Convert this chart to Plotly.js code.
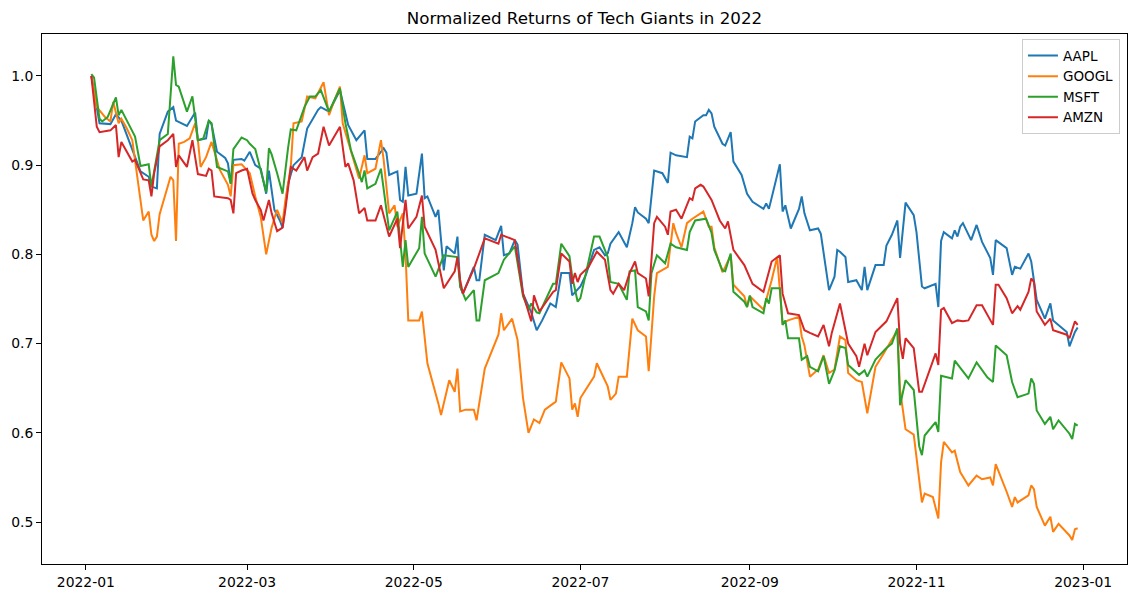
<!DOCTYPE html>
<html>
<head>
<meta charset="utf-8">
<script src="https://cdn.plot.ly/plotly-3.0.1.min.js"></script>
<style>html,body{margin:0;padding:0;background:#fff;}#chart{width:1136px;height:605px;}</style>
</head>
<body>
<div id="chart"></div>
<script>
// Day-of-year offsets (0 = 2022-01-01) of the plotted trading days, and normalized prices
const aaplDay = [2,5,9,11,13,20,23,24,26,27,30,32,33,37,40,41,44,45,46,48,51,52,53,54,57,58,60,62,64,66,67,69,71,72,74,76,79,81,85,86,89,93,96,99,102,103,106,109,110,111,114,115,116,117,118,121,123,124,125,128,129,131,132,135,136,137,138,142,143,144,146,150,152,153,155,157,158,160,161,163,165,167,170,172,174,177,178,181,183,186,188,190,191,192,195,198,200,201,202,205,206,207,208,211,213,214,216,220,221,222,223,226,227,228,229,230,233,234,236,237,240,242,244,248,249,250,254,255,256,258,261,262,263,265,268,269,272,274,275,276,278,279,282,284,285,286,289,292,293,295,297,298,300,303,304,306,307,311,312,313,314,317,318,319,320,321,324,326,328,331,332,333,337,339,340,342,345,346,348,351,353,354,359,360,362,363];
const aaplVal = [1.000,0.947,0.946,0.957,0.950,0.893,0.887,0.876,0.874,0.935,0.960,0.965,0.950,0.944,0.959,0.928,0.930,0.950,0.946,0.915,0.908,0.902,0.880,0.906,0.907,0.905,0.915,0.900,0.896,0.868,0.894,0.850,0.838,0.830,0.879,0.900,0.909,0.941,0.962,0.965,0.960,0.984,0.945,0.928,0.939,0.907,0.907,0.919,0.914,0.889,0.893,0.861,0.859,0.898,0.866,0.868,0.913,0.863,0.865,0.842,0.850,0.782,0.809,0.801,0.820,0.764,0.756,0.786,0.771,0.771,0.822,0.816,0.832,0.799,0.801,0.816,0.811,0.756,0.749,0.735,0.715,0.726,0.745,0.741,0.779,0.779,0.754,0.764,0.777,0.805,0.808,0.799,0.801,0.812,0.825,0.808,0.835,0.853,0.847,0.840,0.835,0.865,0.894,0.891,0.880,0.914,0.911,0.909,0.932,0.930,0.949,0.956,0.956,0.962,0.958,0.943,0.924,0.922,0.937,0.904,0.889,0.868,0.859,0.851,0.857,0.851,0.901,0.848,0.855,0.829,0.851,0.865,0.846,0.827,0.829,0.823,0.760,0.775,0.805,0.803,0.797,0.769,0.771,0.760,0.786,0.760,0.788,0.788,0.810,0.822,0.838,0.796,0.858,0.844,0.825,0.764,0.762,0.767,0.741,0.815,0.825,0.818,0.827,0.820,0.831,0.835,0.816,0.833,0.814,0.796,0.777,0.816,0.807,0.777,0.786,0.784,0.801,0.792,0.749,0.728,0.745,0.726,0.713,0.697,0.713,0.718];

const googlDay = [2,4,7,9,10,12,13,15,17,20,21,23,24,25,26,27,29,31,32,33,34,36,38,40,41,42,44,46,49,52,53,54,57,58,60,62,64,66,68,70,72,73,75,76,79,81,84,87,89,91,93,94,97,100,102,103,106,108,109,111,113,114,116,117,118,122,123,125,129,130,133,135,136,137,139,142,143,146,151,152,153,156,158,160,162,164,166,168,172,174,177,178,179,180,181,186,187,191,192,194,195,198,200,202,205,206,207,208,209,212,213,215,216,218,220,222,226,228,229,230,233,234,236,237,241,242,243,248,250,251,253,254,255,257,261,262,263,265,268,270,272,274,276,278,279,282,284,286,289,292,297,298,300,303,305,306,307,310,312,313,314,317,318,320,323,326,328,331,332,333,337,339,340,341,345,346,347,348,351,353,354,356,360,361,362,363];
const googlVal = [1.000,0.965,0.954,0.949,0.971,0.947,0.952,0.941,0.928,0.861,0.838,0.848,0.822,0.815,0.820,0.845,0.866,0.887,0.883,0.815,0.924,0.926,0.930,0.947,0.928,0.898,0.909,0.926,0.895,0.878,0.865,0.900,0.901,0.898,0.891,0.865,0.842,0.800,0.830,0.850,0.835,0.860,0.898,0.947,0.949,0.977,0.975,0.993,0.956,0.973,0.988,0.947,0.917,0.885,0.911,0.891,0.896,0.928,0.906,0.846,0.855,0.831,0.846,0.800,0.726,0.726,0.736,0.678,0.633,0.620,0.659,0.646,0.672,0.624,0.626,0.626,0.614,0.672,0.710,0.734,0.715,0.728,0.704,0.639,0.600,0.615,0.611,0.626,0.635,0.679,0.661,0.626,0.633,0.618,0.639,0.663,0.678,0.652,0.637,0.644,0.663,0.663,0.728,0.715,0.708,0.669,0.710,0.753,0.779,0.784,0.786,0.835,0.824,0.808,0.835,0.840,0.848,0.831,0.831,0.808,0.780,0.786,0.799,0.766,0.753,0.741,0.753,0.738,0.760,0.771,0.797,0.762,0.723,0.726,0.730,0.708,0.698,0.663,0.671,0.687,0.667,0.671,0.708,0.704,0.667,0.659,0.657,0.622,0.674,0.689,0.715,0.648,0.604,0.598,0.545,0.522,0.532,0.528,0.504,0.567,0.590,0.578,0.580,0.556,0.541,0.552,0.548,0.550,0.541,0.565,0.534,0.517,0.528,0.522,0.530,0.541,0.537,0.517,0.496,0.506,0.489,0.498,0.485,0.480,0.492,0.493];

const msftDay = [2,3,5,6,8,11,12,13,18,20,23,24,27,30,32,33,34,37,39,41,43,45,46,48,52,53,54,57,59,60,62,64,66,67,68,70,72,74,75,77,80,82,84,86,89,91,93,95,97,100,101,102,103,106,108,111,114,116,117,118,122,123,124,128,131,136,137,139,142,143,144,146,151,153,157,160,162,163,165,166,171,172,174,177,178,180,181,186,188,191,192,195,198,199,201,202,205,206,207,209,212,214,216,220,221,223,227,229,230,233,234,236,237,241,242,243,244,248,249,250,251,254,255,256,257,261,262,264,265,268,270,272,274,276,278,279,283,285,286,289,293,295,297,298,300,303,305,306,307,311,312,313,317,318,323,326,330,332,333,337,339,341,345,346,347,348,351,353,354,356,360,361,362,363];
const msftVal = [1.002,0.998,0.952,0.949,0.954,0.976,0.956,0.962,0.932,0.899,0.901,0.876,0.928,0.935,1.022,0.990,0.988,0.960,0.977,0.928,0.930,0.950,0.947,0.898,0.893,0.879,0.918,0.931,0.928,0.924,0.918,0.894,0.870,0.919,0.912,0.891,0.868,0.919,0.940,0.939,0.965,0.977,0.977,0.984,0.960,0.973,0.986,0.947,0.917,0.891,0.881,0.894,0.874,0.879,0.896,0.827,0.848,0.786,0.816,0.786,0.807,0.842,0.801,0.775,0.799,0.797,0.764,0.749,0.760,0.726,0.726,0.771,0.779,0.794,0.809,0.753,0.738,0.745,0.735,0.734,0.767,0.767,0.812,0.798,0.775,0.747,0.751,0.820,0.820,0.797,0.769,0.767,0.749,0.781,0.782,0.741,0.736,0.726,0.779,0.799,0.790,0.812,0.808,0.805,0.825,0.838,0.840,0.824,0.805,0.782,0.781,0.801,0.758,0.747,0.741,0.754,0.741,0.734,0.751,0.745,0.762,0.762,0.721,0.726,0.706,0.706,0.682,0.686,0.674,0.669,0.686,0.655,0.670,0.697,0.695,0.676,0.665,0.670,0.663,0.682,0.695,0.700,0.717,0.631,0.659,0.648,0.585,0.575,0.597,0.612,0.601,0.664,0.661,0.681,0.661,0.679,0.662,0.657,0.698,0.687,0.657,0.640,0.644,0.661,0.655,0.625,0.610,0.618,0.604,0.614,0.599,0.593,0.610,0.608];

const amznDay = [2,4,5,9,11,12,13,15,17,18,20,21,23,24,25,27,30,32,33,34,37,39,41,44,45,46,47,52,53,54,55,57,59,60,61,62,64,65,67,68,70,72,73,75,77,80,81,83,85,87,89,93,95,96,98,100,102,103,106,108,111,114,115,117,118,121,123,124,128,131,135,136,137,138,142,146,151,152,157,160,163,164,166,171,172,174,177,178,179,180,181,184,187,190,192,193,195,197,199,201,202,205,206,208,209,212,213,214,216,218,221,222,223,225,226,229,232,234,235,237,241,244,248,251,254,255,257,261,263,265,268,270,272,273,276,278,279,282,283,285,286,289,293,297,298,299,300,303,305,306,308,311,312,313,314,317,319,321,323,326,328,332,333,334,337,339,341,342,345,346,347,348,351,353,354,359,360,362,363];
const amznVal = [1.000,0.943,0.937,0.939,0.945,0.909,0.926,0.915,0.904,0.906,0.891,0.884,0.883,0.865,0.891,0.921,0.928,0.935,0.898,0.911,0.898,0.928,0.890,0.888,0.896,0.894,0.865,0.863,0.861,0.846,0.891,0.894,0.896,0.880,0.868,0.861,0.850,0.838,0.861,0.846,0.826,0.830,0.850,0.898,0.894,0.909,0.894,0.909,0.913,0.943,0.922,0.943,0.898,0.902,0.883,0.846,0.852,0.838,0.838,0.855,0.820,0.840,0.807,0.861,0.829,0.842,0.866,0.831,0.805,0.762,0.781,0.797,0.771,0.756,0.784,0.818,0.812,0.822,0.816,0.756,0.725,0.754,0.736,0.758,0.760,0.801,0.792,0.767,0.779,0.769,0.777,0.786,0.803,0.794,0.760,0.756,0.767,0.760,0.779,0.792,0.779,0.773,0.753,0.835,0.842,0.831,0.822,0.848,0.850,0.840,0.863,0.861,0.874,0.878,0.876,0.861,0.838,0.829,0.837,0.805,0.788,0.767,0.758,0.792,0.799,0.756,0.734,0.732,0.715,0.712,0.708,0.721,0.697,0.712,0.745,0.715,0.700,0.686,0.674,0.700,0.687,0.713,0.725,0.751,0.700,0.683,0.706,0.695,0.646,0.646,0.664,0.689,0.676,0.738,0.740,0.723,0.726,0.725,0.726,0.743,0.743,0.721,0.766,0.766,0.751,0.734,0.742,0.738,0.758,0.773,0.769,0.736,0.721,0.728,0.715,0.710,0.706,0.725,0.721];

const seriesNames = ['AAPL','GOOGL','MSFT','AMZN'];
const seriesColors = ['#1f77b4','#ff7f0e','#2ca02c','#d62728'];
const yTicks = [0.5,0.6,0.7,0.8,0.9,1.0];

function toDate(d){ return new Date(Date.UTC(2022,0,1+d)).toISOString().slice(0,10); }

const dayArrays = [aaplDay, googlDay, msftDay, amznDay];
const valArrays = [aaplVal, googlVal, msftVal, amznVal];

const traces = seriesNames.map((name,i)=>({
  type:'scatter', mode:'lines', name:name,
  x: dayArrays[i].map(toDate), y: valArrays[i],
  line:{color:seriesColors[i], width:2}
}));

const font = {family:'DejaVu Sans, sans-serif', color:'#000'};
const layout = {
  width:1136, height:605,
  margin:{l:42, r:9, t:34, b:41},
  paper_bgcolor:'#fff', plot_bgcolor:'#fff',
  font: Object.assign({size:13.9}, font),
  title:{text:'Normalized Returns of Tech Giants in 2022', font:Object.assign({size:16.7}, font),
         x:0.5, xref:'paper', xanchor:'center', y:1-18/605, yref:'container', yanchor:'middle'},
  showlegend:true,
  legend:{x:0.9935, xanchor:'right', y:0.99, yanchor:'top', bgcolor:'rgba(255,255,255,0.8)',
          bordercolor:'#cccccc', borderwidth:1, font:Object.assign({size:13.5}, font), itemwidth:30},
  xaxis:{type:'date', range:['2021-12-15 22:48','2023-01-17 01:12'], tickformat:'%Y-%m', dtick:'M2', tick0:'2022-01-01',
         ticks:'outside', ticklen:5, tickwidth:1, tickcolor:'#000', showline:true, linecolor:'#000', linewidth:1, mirror:true,
         showgrid:false, zeroline:false, tickfont:Object.assign({size:13.9}, font)},
  yaxis:{range:[0.453,1.047], tickvals:yTicks, ticktext:yTicks.map(v=>v.toFixed(1)),
         ticks:'outside', ticklen:5, tickwidth:1, tickcolor:'#000', showline:true, linecolor:'#000', linewidth:1, mirror:true,
         showgrid:false, zeroline:false, tickfont:Object.assign({size:13.9}, font)}
};
Plotly.newPlot('chart', traces, layout, {displayModeBar:false, staticPlot:true});
</script>
</body>
</html>
